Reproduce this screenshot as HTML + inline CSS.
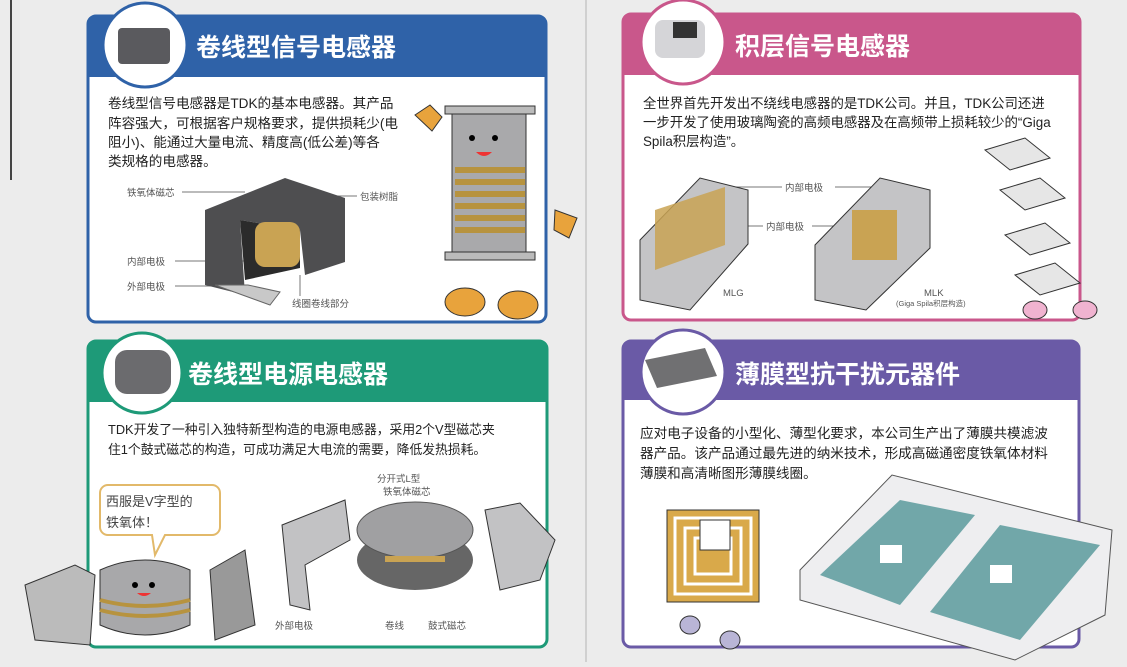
<!DOCTYPE html>
<html><head><meta charset="utf-8"><style>
body{margin:0;width:1127px;height:662px;overflow:hidden;background:#ececec;}
svg text{font-family:"Liberation Sans","Noto Sans CJK SC",sans-serif;}
</style></head><body>
<svg width="1127" height="662" viewBox="0 0 1127 662" xmlns="http://www.w3.org/2000/svg">
<rect width="1127" height="662" fill="#ececec"/>
<line x1="586" y1="0" x2="586" y2="662" stroke="#d0d0d0" stroke-width="2"/>
<line x1="11" y1="0" x2="11" y2="180" stroke="#444" stroke-width="2"/>

<!-- Panel 1 blue -->
<rect x="88" y="16" width="458" height="306" rx="8" fill="#fff" stroke="#2f62a8" stroke-width="3"/>
<path d="M88 77 V24 a8 8 0 0 1 8 -8 H538 a8 8 0 0 1 8 8 V77Z" fill="#2f62a8"/>
<circle cx="145" cy="45" r="42" fill="#fff" stroke="#2f62a8" stroke-width="3"/>
<rect x="118" y="28" width="52" height="36" rx="4" fill="#5a5a5e"/>
<text x="196" y="56" font-size="25" font-weight="bold" fill="#fff">卷线型信号电感器</text>
<g font-size="13.6" fill="#222">
<text x="108" y="108">卷线型信号电感器是TDK的基本电感器。其产品</text>
<text x="108" y="128">阵容强大，可根据客户规格要求，提供损耗少(电</text>
<text x="108" y="147">阻小)、能通过大量电流、精度高(低公差)等各</text>
<text x="108" y="166">类规格的电感器。</text>
</g>
<g font-size="9.5" fill="#555">
<text x="127" y="196">铁氧体磁芯</text><text x="360" y="200">包装树脂</text>
<text x="127" y="265">内部电极</text><text x="127" y="290">外部电极</text>
<text x="292" y="307">线圈卷线部分</text>
</g>
<g stroke="#777" stroke-width="1"><line x1="182" y1="192" x2="245" y2="192"/><line x1="312" y1="196" x2="357" y2="196"/><line x1="175" y1="261" x2="245" y2="261"/><line x1="175" y1="286" x2="215" y2="286"/><line x1="300" y1="296" x2="300" y2="275"/></g>
<path d="M205 210 L285 178 L345 198 L345 262 L305 275 L300 230 L240 220 L245 295 L205 285Z" fill="#4e4e50"/>
<path d="M240 220 L300 230 L300 268 L245 280Z" fill="#2b2b2b"/>
<rect x="255" y="222" width="45" height="45" rx="10" fill="#c9a353"/>
<path d="M215 285 L270 305 L280 292 L248 285Z" fill="#c8c8c8" stroke="#666"/>
<!-- character -->
<rect x="445" y="106" width="90" height="8" fill="#bbb" stroke="#333"/>
<rect x="452" y="114" width="74" height="140" fill="#a9a9ab" stroke="#333"/>
<g fill="none" stroke="#b7933f" stroke-width="6"><path d="M455 170h70M455 182h70M455 194h70M455 206h70M455 218h70M455 230h70"/></g>
<rect x="445" y="252" width="90" height="8" fill="#bbb" stroke="#333"/>
<circle cx="472" cy="138" r="3"/><circle cx="495" cy="138" r="3"/>
<path d="M476 152 q8 8 16 0z" fill="#e33"/>
<ellipse cx="465" cy="302" rx="20" ry="14" fill="#e8a33c" stroke="#333"/>
<ellipse cx="518" cy="305" rx="20" ry="14" fill="#e8a33c" stroke="#333"/>
<path d="M415 115 l15 -10 l12 12 l-10 14z" fill="#e8a33c" stroke="#333"/>
<path d="M555 210 l22 8 l-8 20 l-15 -8z" fill="#e8a33c" stroke="#333"/>

<!-- Panel 2 pink -->
<rect x="623" y="14" width="457" height="306" rx="8" fill="#fff" stroke="#c9578b" stroke-width="3"/>
<path d="M623 75 V22 a8 8 0 0 1 8 -8 H1072 a8 8 0 0 1 8 8 V75Z" fill="#c9578b"/>
<circle cx="683" cy="42" r="42" fill="#fff" stroke="#c9578b" stroke-width="3"/>
<rect x="655" y="20" width="50" height="38" rx="8" fill="#d5d5d8"/><rect x="673" y="22" width="24" height="16" fill="#333"/>
<text x="735" y="55" font-size="25" font-weight="bold" fill="#fff">积层信号电感器</text>
<g font-size="13.4" fill="#222">
<text x="643" y="108">全世界首先开发出不绕线电感器的是TDK公司。并且，TDK公司还进</text>
<text x="643" y="127">一步开发了使用玻璃陶瓷的高频电感器及在高频带上损耗较少的“Giga</text>
<text x="643" y="146">Spila积层构造”。</text>
</g>
<g font-size="9.5" fill="#555"><text x="785" y="191">内部电极</text><text x="766" y="230">内部电极</text>
<text x="723" y="296">MLG</text><text x="924" y="296">MLK</text><text x="896" y="306" font-size="7.5">(Giga Spila积层构造)</text></g>
<g stroke="#777"><line x1="735" y1="187" x2="782" y2="187"/><line x1="835" y1="187" x2="880" y2="187"/><line x1="732" y1="226" x2="763" y2="226"/><line x1="812" y1="226" x2="850" y2="226"/></g>
<path d="M640 240 L700 178 L748 190 L748 244 L690 310 L640 300Z" fill="#c4c4c6" stroke="#333"/>
<path d="M655 210 L725 187 L725 245 L655 270Z" fill="#c9a353" opacity="0.85"/>
<path d="M815 245 L880 178 L930 190 L930 248 L866 310 L815 300Z" fill="#c4c4c6" stroke="#333"/>
<rect x="852" y="210" width="45" height="50" fill="#c9a353"/>
<g fill="#e6e6e6" stroke="#333"><path d="M985 150 l40 -12 l25 20 l-40 12z"/><path d="M1000 190 l40 -12 l25 20 l-40 12z"/><path d="M1005 235 l40 -12 l25 20 l-40 12z"/><path d="M1015 275 l40 -12 l25 20 l-40 12z"/></g>
<ellipse cx="1035" cy="310" rx="12" ry="9" fill="#f0b3d0" stroke="#333"/><ellipse cx="1085" cy="310" rx="12" ry="9" fill="#f0b3d0" stroke="#333"/>

<!-- Panel 3 green -->
<rect x="88" y="341" width="459" height="306" rx="8" fill="#fff" stroke="#1e9a78" stroke-width="3"/>
<path d="M88 402 V349 a8 8 0 0 1 8 -8 H539 a8 8 0 0 1 8 8 V402Z" fill="#1e9a78"/>
<circle cx="142" cy="373" r="40" fill="#fff" stroke="#1e9a78" stroke-width="3"/>
<rect x="115" y="350" width="56" height="44" rx="12" fill="#6b6b6e"/>
<text x="188" y="383" font-size="25" font-weight="bold" fill="#fff">卷线型电源电感器</text>
<g font-size="12.8" fill="#222">
<text x="108" y="434">TDK开发了一种引入独特新型构造的电源电感器，采用2个V型磁芯夹</text>
<text x="108" y="454">住1个鼓式磁芯的构造，可成功满足大电流的需要，降低发热损耗。</text>
</g>
<path d="M108 485 H212 a8 8 0 0 1 8 8 V527 a8 8 0 0 1 -8 8 H165 L155 555 L152 535 H108 a8 8 0 0 1 -8 -8 V493 a8 8 0 0 1 8 -8z" fill="#fff" stroke="#e2b96a" stroke-width="2"/>
<text x="106" y="506" font-size="13" fill="#444">西服是V字型的</text>
<text x="106" y="527" font-size="13" fill="#444">铁氧体！</text>
<path d="M25 585 l50 -20 l20 10 l-5 70 l-55 -5z" fill="#bbb" stroke="#333"/>
<path d="M210 570 l35 -20 l10 75 l-40 15z" fill="#999" stroke="#333"/>
<path d="M100 570 q45 -20 90 0 v55 q-45 20 -90 0z" fill="#a8a8aa" stroke="#333"/>
<g stroke="#b7933f" stroke-width="4" fill="none"><path d="M100 600 q45 12 90 0M100 610 q45 12 90 0"/></g>
<circle cx="135" cy="585" r="3"/><circle cx="152" cy="585" r="3"/><path d="M137 593 q7 6 14 0z" fill="#e33"/>
<g font-size="9.5" fill="#555"><text x="377" y="482">分开式L型</text><text x="383" y="495">铁氧体磁芯</text>
<text x="275" y="629">外部电极</text><text x="385" y="629">卷线</text><text x="428" y="629">鼓式磁芯</text></g>
<path d="M282 525 L345 500 L350 540 L305 565 L310 610 L290 605Z" fill="#c2c2c4" stroke="#333"/>
<path d="M485 510 L520 503 L555 540 L540 580 L500 590Z" fill="#c2c2c4" stroke="#333"/>
<ellipse cx="415" cy="560" rx="58" ry="30" fill="#666"/>
<ellipse cx="415" cy="530" rx="58" ry="28" fill="#a0a0a2" stroke="#555"/>
<rect x="385" y="556" width="60" height="6" fill="#c9a353"/>

<!-- Panel 4 purple -->
<rect x="623" y="341" width="456" height="306" rx="8" fill="#fff" stroke="#6a5aa6" stroke-width="3"/>
<path d="M623 400 V349 a8 8 0 0 1 8 -8 H1071 a8 8 0 0 1 8 8 V400Z" fill="#6a5aa6"/>
<circle cx="683" cy="372" r="42" fill="#fff" stroke="#6a5aa6" stroke-width="3"/>
<path d="M645 360 l60 -12 l12 28 l-60 12z" fill="#707072"/>
<text x="735" y="383" font-size="25" font-weight="bold" fill="#fff">薄膜型抗干扰元器件</text>
<g font-size="13.6" fill="#222">
<text x="640" y="438">应对电子设备的小型化、薄型化要求，本公司生产出了薄膜共模滤波</text>
<text x="640" y="458">器产品。该产品通过最先进的纳米技术，形成高磁通密度铁氧体材料</text>
<text x="640" y="478">薄膜和高清晰图形薄膜线圈。</text>
</g>
<rect x="667" y="510" width="92" height="92" fill="#d9a94a" stroke="#333"/>
<g fill="none" stroke="#fff" stroke-width="3"><rect x="675" y="518" width="76" height="76"/><rect x="685" y="528" width="56" height="56"/><rect x="695" y="538" width="36" height="36"/></g>
<rect x="700" y="520" width="30" height="30" fill="#fff" stroke="#333"/>
<ellipse cx="690" cy="625" rx="10" ry="9" fill="#b9b5d6" stroke="#333"/><ellipse cx="730" cy="640" rx="10" ry="9" fill="#b9b5d6" stroke="#333"/>
<path d="M800 570 L892 475 L1112 530 L1105 615 L1015 660 L800 600Z" fill="#eeeef0" stroke="#555"/>
<path d="M820 575 L900 500 L975 515 L900 605Z" fill="#5a9a9c" opacity="0.85"/>
<path d="M930 612 L1000 525 L1100 545 L1020 640Z" fill="#5a9a9c" opacity="0.85"/>
<rect x="880" y="545" width="22" height="18" fill="#fff"/><rect x="990" y="565" width="22" height="18" fill="#fff"/>
</svg>
</body></html>
